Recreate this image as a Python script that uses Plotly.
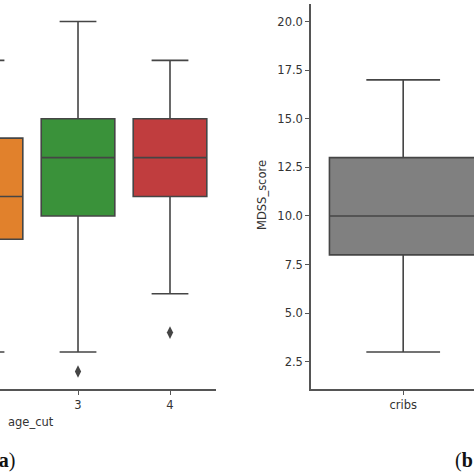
import plotly.graph_objects as go

# ---- data ----
age_cut = [2, 3, 4]
age_colors = ["#e1812c", "#3a923a", "#c03d3e"]
age_lower = [3, 3, 6]
age_q1 = [8.8, 10, 11]
age_median = [11, 13, 13]
age_q3 = [14, 15, 15]
age_upper = [18, 20, 18]
age_outlier_x = [3, 4]
age_outlier_y = [2, 4]

crib_cats = ["cribs"]
crib_lower = [3]
crib_q1 = [8]
crib_median = [10]
crib_q3 = [13]
crib_upper = [17]

W = H = 474
LINE = "#454545"
TXT = "#333333"
TOP, BOT = 4, 389  # plot area pixel rows

fig = go.Figure()

for i, c in enumerate(age_cut):
    fig.add_trace(go.Box(
        x=[c], q1=[age_q1[i]], median=[age_median[i]], q3=[age_q3[i]],
        lowerfence=[age_lower[i]], upperfence=[age_upper[i]],
        width=0.8, whiskerwidth=0.5, boxpoints=False,
        fillcolor=age_colors[i], line=dict(color=LINE, width=1.6),
        xaxis="x", yaxis="y", showlegend=False, hoverinfo="skip"))

fig.add_trace(go.Scatter(
    x=age_outlier_x, y=age_outlier_y, mode="markers",
    marker=dict(symbol="diamond-tall", size=9, color=LINE),
    xaxis="x", yaxis="y", showlegend=False, hoverinfo="skip"))

for i, c in enumerate(crib_cats):
    fig.add_trace(go.Box(
        x=[i], q1=[crib_q1[i]], median=[crib_median[i]], q3=[crib_q3[i]],
        lowerfence=[crib_lower[i]], upperfence=[crib_upper[i]],
        width=0.8, whiskerwidth=0.5, boxpoints=False,
        fillcolor="#808080", line=dict(color=LINE, width=1.6),
        xaxis="x2", yaxis="y2", showlegend=False, hoverinfo="skip"))

yrange = [1.1, 20.9]
tickfont = dict(family="DejaVu Sans", size=11.5, color=TXT)

fig.update_layout(
    width=W, height=H,
    margin=dict(l=0, r=0, t=TOP, b=H - BOT),
    paper_bgcolor="white", plot_bgcolor="white",
    xaxis=dict(domain=[0, 216 / W], range=[2.152, 4.5],
               tickvals=[1, 2, 3, 4], ticktext=["1", "2", "3", "4"],
               showgrid=False, zeroline=False, showline=True,
               linecolor="#555555", linewidth=1.5,
               ticks="outside", ticklen=4, tickcolor="#555555",
               tickfont=tickfont),
    yaxis=dict(domain=[0, 1], range=yrange, showgrid=False, zeroline=False,
               showline=False, showticklabels=False, ticks=""),
    xaxis2=dict(domain=[311 / W, 1], range=[-0.5, 0.384],
                tickvals=[0], ticktext=crib_cats,
                showgrid=False, zeroline=False, showline=True,
                linecolor="#555555", linewidth=1.5,
                ticks="outside", ticklen=4, tickcolor="#555555",
                tickfont=tickfont, anchor="y2"),
    yaxis2=dict(domain=[0, 1], range=yrange, anchor="x2",
                tickvals=[2.5, 5, 7.5, 10, 12.5, 15, 17.5, 20],
                ticktext=["2.5", "5.0", "7.5", "10.0", "12.5", "15.0", "17.5", "20.0"],
                showgrid=False, zeroline=False, showline=True,
                linecolor="#555555", linewidth=1.5,
                ticks="outside", ticklen=4, tickcolor="#555555",
                tickfont=tickfont),
)

def px(x):
    return x / W

def py(y):
    return (BOT - y) / (BOT - TOP)

fig.add_annotation(text="MDSS_score", x=px(262), y=py(195), xref="paper", yref="paper",
                   xanchor="center", yanchor="middle",
                   textangle=-90, showarrow=False,
                   font=dict(family="DejaVu Sans", size=11.5, color=TXT))
fig.add_annotation(text="age_cut", x=px(31), y=py(422), xref="paper", yref="paper",
                   xanchor="center", yanchor="middle",
                   showarrow=False, font=dict(family="DejaVu Sans", size=11.5, color=TXT))
fig.add_annotation(text="(<b>a</b>)", x=px(17), y=py(460), xref="paper", yref="paper",
                   xanchor="right", yanchor="middle", showarrow=False,
                   font=dict(family="Liberation Serif", size=20, color="#111111"))
fig.add_annotation(text="(<b>b</b>", x=px(453), y=py(460), xref="paper", yref="paper",
                   xanchor="left", yanchor="middle", showarrow=False,
                   font=dict(family="Liberation Serif", size=20, color="#111111"))

fig.write_html("out.html")
